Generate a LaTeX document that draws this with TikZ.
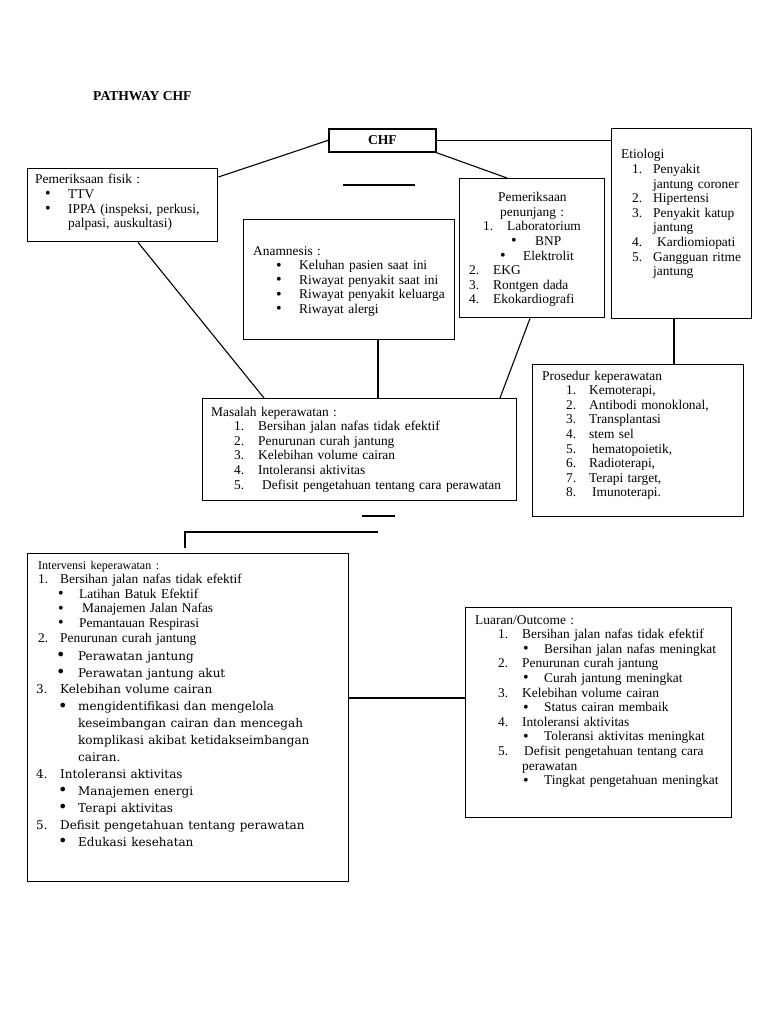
\documentclass[tikz,border=0pt]{standalone}
\usepackage{fontspec}
\setmainfont{Liberation Serif}
\newfontfamily\djs{DejaVu Serif}
\usetikzlibrary{calc}
\newcommand\pwi[3]{\hspace*{#1}\makebox[#2][l]{#3}}
\newcommand\bul{\raisebox{-0.4pt}{\fontsize{16}{16}\selectfont\textbullet}}
\tikzset{
  box/.style={draw, line width=1.4pt, inner sep=0pt, anchor=north west},
  txt/.style={anchor=base west, inner sep=0pt, align=left, font=\fontsize{13.4}{14.6}\selectfont},
  conn/.style={line width=1.1pt},
  hd/.style={font=\bfseries\fontsize{13.6}{16}\selectfont}
}
\begin{document}
\begin{tikzpicture}[x=1pt,y=-1pt]
\path[use as bounding box, fill=white] (0,0) rectangle (768,1024);

% title
\node[hd, anchor=base west, inner sep=0pt] (title) at (93,101) {PATHWAY CHF};

% boxes
\node[box, hd, line width=1.8pt, minimum width=107pt, minimum height=23pt] (chf) at (328,128) {CHF};
\node[box, minimum width=190pt, minimum height=73pt] (fisik) at (27,168) {};
\node[box, minimum width=211pt, minimum height=120pt] (anam) at (243,219) {};
\node[box, minimum width=145pt, minimum height=139pt] (pen) at (459,178) {};
\node[box, minimum width=140pt, minimum height=190pt] (etio) at (611,128) {};
\node[box, minimum width=211pt, minimum height=152pt] (pros) at (532,364) {};
\node[box, minimum width=314pt, minimum height=102pt] (mas) at (202,398) {};
\node[box, minimum width=321pt, minimum height=328pt] (interv) at (27,553) {};
\node[box, minimum width=266pt, minimum height=210pt] (luaran) at (465,607) {};

% texts
\node[txt, text width=175pt] (fisikt) at (35,184) {Pemeriksaan fisik :\\
\pwi{10pt}{23pt}{\bul}TTV\\
\pwi{10pt}{23pt}{\bul}IPPA (inspeksi, perkusi,\\
\hspace*{33pt}palpasi, auskultasi)};

\node[txt, text width=195pt] (anamt) at (253,255) {Anamnesis :\\
\pwi{23pt}{23pt}{\bul}Keluhan pasien saat ini\\
\pwi{23pt}{23pt}{\bul}Riwayat penyakit saat ini\\
\pwi{23pt}{23pt}{\bul}Riwayat penyakit keluarga\\
\pwi{23pt}{23pt}{\bul}Riwayat alergi};

\node[txt, text width=132pt] (pent) at (469,201.7) {\hspace*{29pt}Pemeriksaan\\
\hspace*{31pt}penunjang :\\
\pwi{14pt}{24pt}{1.}Laboratorium\\
\pwi{42pt}{24pt}{\bul}BNP\\
\pwi{31pt}{23pt}{\bul}Elektrolit\\
\pwi{0pt}{24pt}{2.}EKG\\
\pwi{0pt}{24pt}{3.}Rontgen dada\\
\pwi{0pt}{24pt}{4.}Ekokardiografi};

\node[txt, text width=127pt] (etiot) at (621,159) {Etiologi\\
\pwi{11pt}{21pt}{1.}Penyakit\\
\hspace*{32pt}jantung coroner\\
\pwi{11pt}{21pt}{2.}Hipertensi\\
\pwi{11pt}{21pt}{3.}Penyakit katup\\
\hspace*{32pt}jantung\\
\pwi{11pt}{25pt}{4.}Kardiomiopati\\
\pwi{11pt}{21pt}{5.}Gangguan ritme\\
\hspace*{32pt}jantung};

\node[txt, text width=195pt] (prost) at (542,380) {Prosedur keperawatan\\
\pwi{24pt}{23pt}{1.}Kemoterapi,\\
\pwi{24pt}{23pt}{2.}Antibodi monoklonal,\\
\pwi{24pt}{23pt}{3.}Transplantasi\\
\pwi{24pt}{23pt}{4.}stem sel\\
\pwi{24pt}{26pt}{5.}hematopoietik,\\
\pwi{24pt}{23pt}{6.}Radioterapi,\\
\pwi{24pt}{23pt}{7.}Terapi target,\\
\pwi{24pt}{26pt}{8.}Imunoterapi.};

\node[txt, text width=300pt] (mast) at (211,416) {Masalah keperawatan :\\
\pwi{23pt}{24pt}{1.}Bersihan jalan nafas tidak efektif\\
\pwi{23pt}{24pt}{2.}Penurunan curah jantung\\
\pwi{23pt}{24pt}{3.}Kelebihan volume cairan\\
\pwi{23pt}{24pt}{4.}Intoleransi aktivitas\\
\pwi{23pt}{28pt}{5.}Defisit pengetahuan tentang cara perawatan};

\node[txt, text width=302pt] (intervt) at (38,569) {{\fontsize{12}{14.6}\selectfont Intervensi keperawatan :}\par
\pwi{0pt}{22pt}{1.}Bersihan jalan nafas tidak efektif\par
\pwi{20pt}{21pt}{\bul}Latihan Batuk Efektif\par
\pwi{20pt}{24pt}{\bul}Manajemen Jalan Nafas\par
\pwi{20pt}{21pt}{\bul}Pemantauan Respirasi\par
\pwi{0pt}{22pt}{2.}Penurunan curah jantung\par
{\djs\fontsize{12}{16.9}\selectfont\vspace{1.2pt}%
\pwi{18pt}{22pt}{\bul}Perawatan jantung\par
\pwi{18pt}{22pt}{\bul}Perawatan jantung akut\par
\pwi{-2pt}{24pt}{3.}Kelebihan volume cairan\par
\pwi{20pt}{20pt}{\bul}mengidentifikasi dan mengelola\par
\hspace*{40pt}keseimbangan cairan dan mencegah\par
\hspace*{40pt}komplikasi akibat ketidakseimbangan\par
\hspace*{40pt}cairan.\par
\pwi{-2pt}{24pt}{4.}Intoleransi aktivitas\par
\pwi{20pt}{20pt}{\bul}Manajemen energi\par
\pwi{20pt}{20pt}{\bul}Terapi aktivitas\par
\pwi{-2pt}{24pt}{5.}Defisit pengetahuan tentang perawatan\par
\pwi{20pt}{20pt}{\bul}Edukasi kesehatan\par}};

\node[txt, text width=250pt] (luarant) at (475,624) {Luaran/Outcome :\\
\pwi{23pt}{24pt}{1.}Bersihan jalan nafas tidak efektif\\
\pwi{48pt}{21pt}{\bul}Bersihan jalan nafas meningkat\\
\pwi{23pt}{24pt}{2.}Penurunan curah jantung\\
\pwi{48pt}{21pt}{\bul}Curah jantung meningkat\\
\pwi{23pt}{24pt}{3.}Kelebihan volume cairan\\
\pwi{48pt}{21pt}{\bul}Status cairan membaik\\
\pwi{23pt}{24pt}{4.}Intoleransi aktivitas\\
\pwi{48pt}{21pt}{\bul}Toleransi aktivitas meningkat\\
\pwi{23pt}{26pt}{5.}Defisit pengetahuan tentang cara\\
\hspace*{47pt}perawatan\\
\pwi{48pt}{21pt}{\bul}Tingkat pengetahuan meningkat};

% connectors
\draw[conn] (chf.west) -- ($(fisik.north east)+(0,9)$);
\draw[conn] (chf.east) -- (chf.east -| etio.west);
\draw[conn] (chf.south east) -- ($(pen.north west)+(48,0)$);
\draw[conn] ($(fisik.south west)+(111,0)$) -- ($(mas.north west)+(62,0)$);
\draw[conn] ($(anam.south west)+(135,0)$) -- ($(mas.north west)+(176,0)$);
\draw[conn] ($(pen.south west)+(71,0)$) -- ($(mas.north west)+(298,0)$);
\draw[conn] ($(etio.south west)+(63,0)$) -- ($(pros.north west)+(142,0)$);
\draw[conn] ($(interv.north east)+(0,145)$) -- ($(luaran.north west)+(0,91)$);

% free strokes
\coordinate (u1) at (343,185); \coordinate (u2) at (415,185);
\coordinate (v1) at (362,516); \coordinate (v2) at (395,516);
\coordinate (w1) at (378,532); \coordinate (w2) at (185,532); \coordinate (w3) at (185,548);
\draw[conn] (u1) -- (u2);
\draw[conn] (v1) -- (v2);
\draw[conn] (w1) -- (w2) -- (w3);
\end{tikzpicture}
\end{document}
